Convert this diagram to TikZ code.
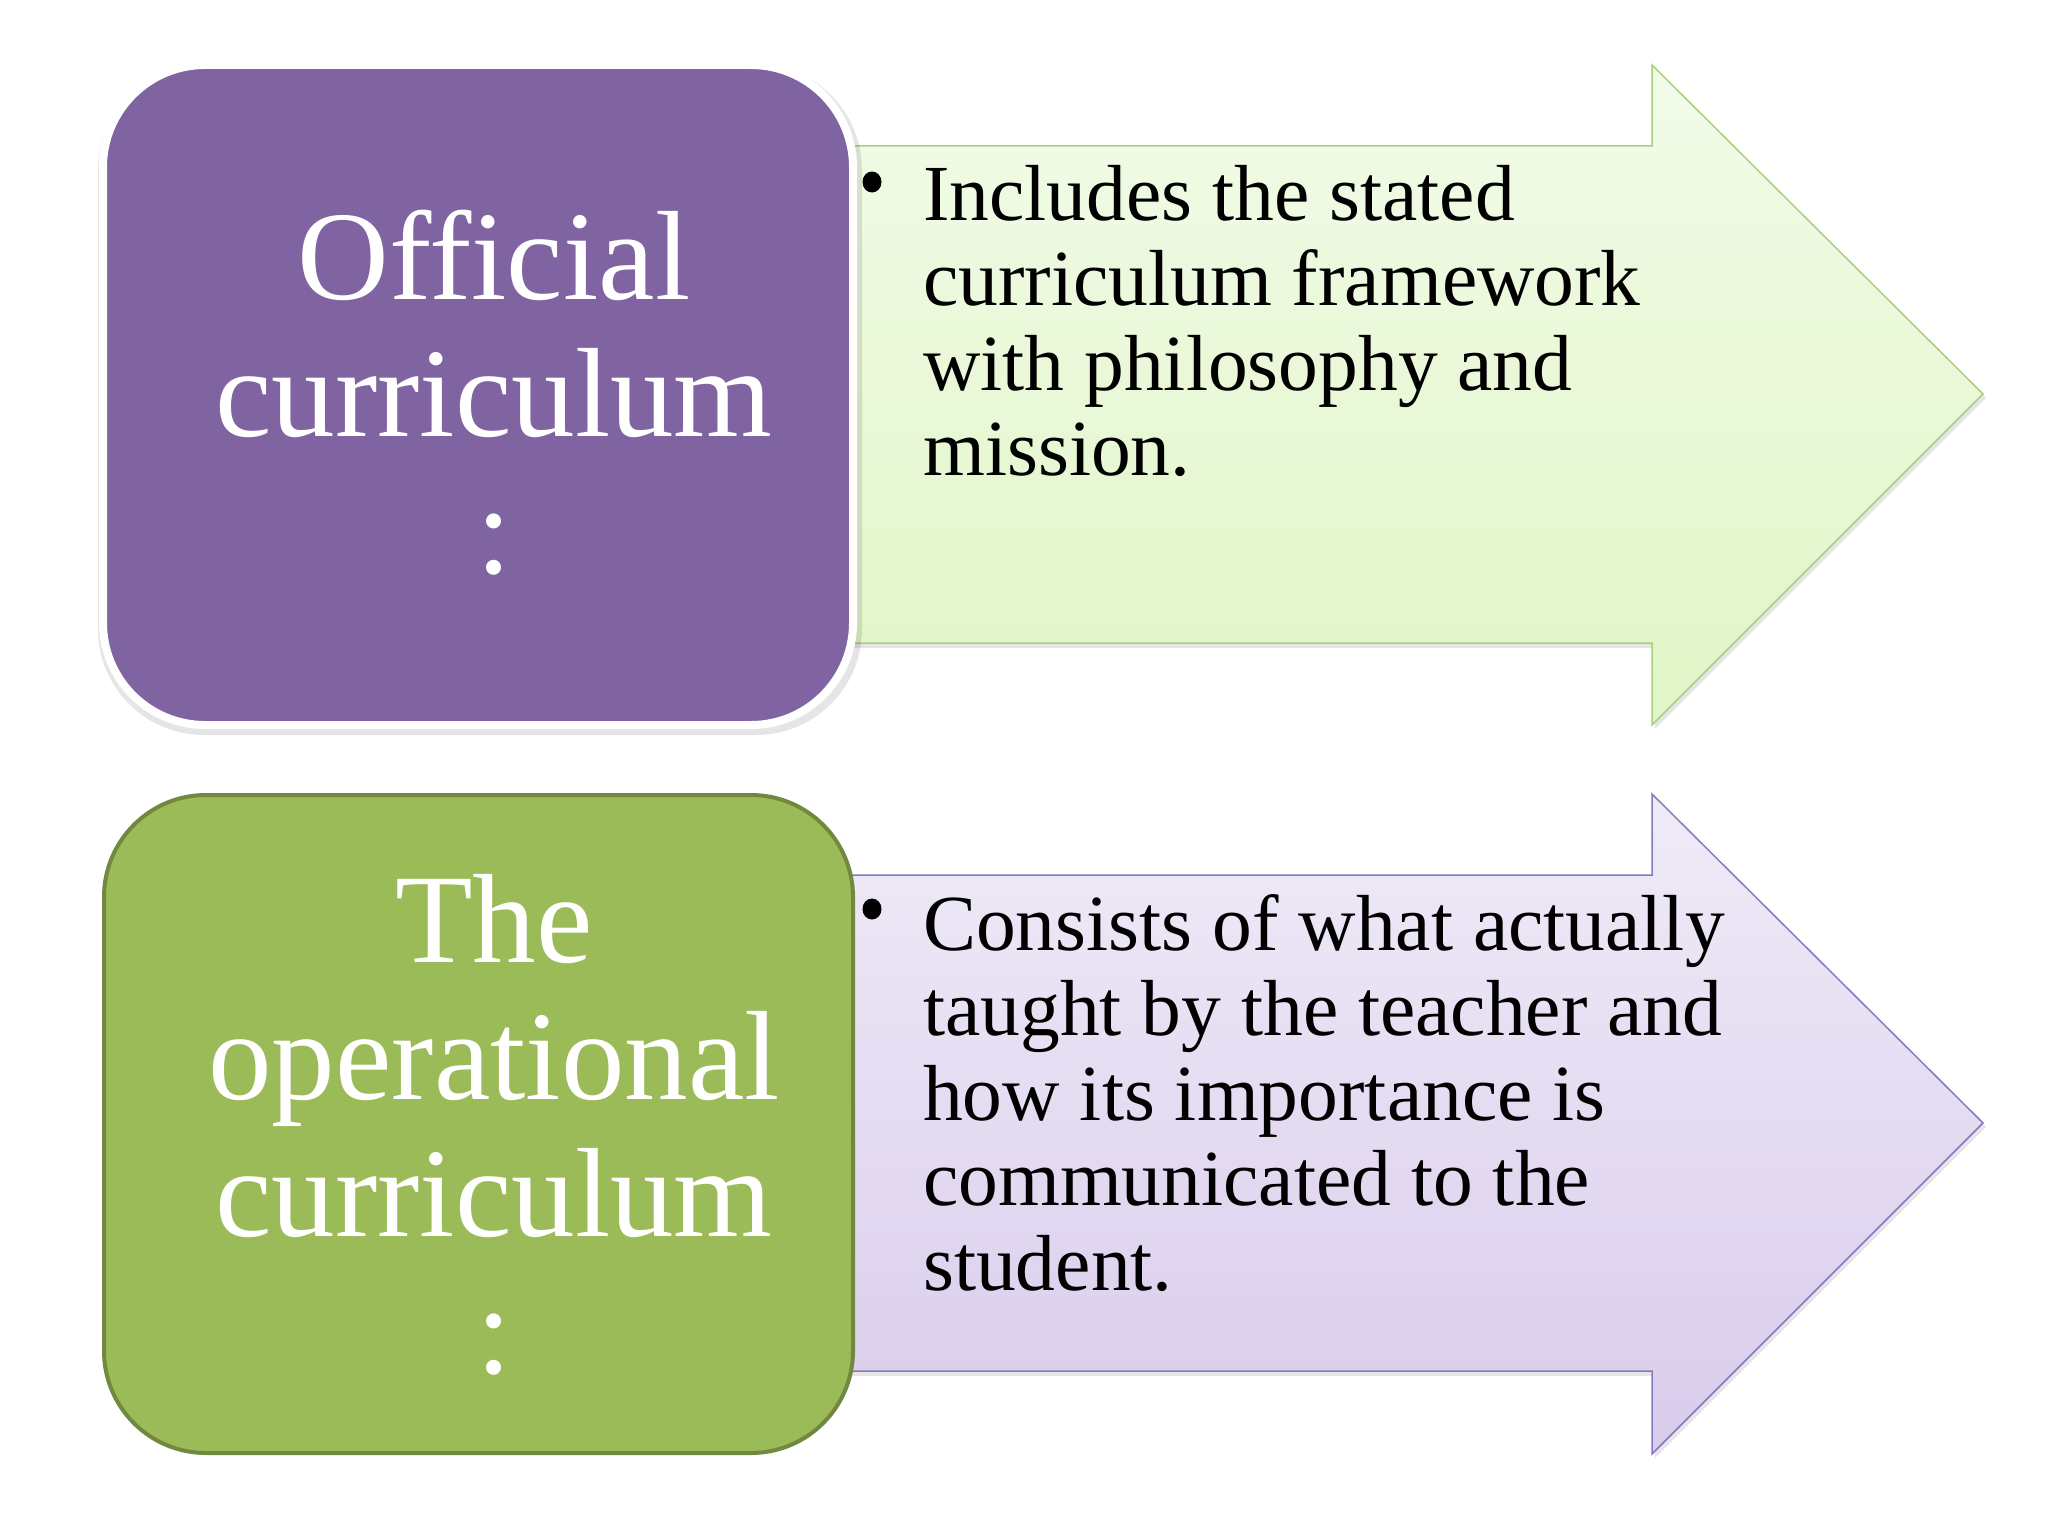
\documentclass[tikz,border=0pt]{standalone}
\usepackage{fontspec}
\setmainfont{Liberation Serif}
\definecolor{purplebox}{HTML}{8064A2}
\definecolor{greenbox}{HTML}{9BBB59}
\definecolor{greenborder}{HTML}{71893F}
\definecolor{garrowtop}{HTML}{F2FBE9}
\definecolor{garrowbot}{HTML}{E1F5C6}
\definecolor{garrowline}{HTML}{A8D080}
\definecolor{parrowtop}{HTML}{EFEBF7}
\definecolor{parrowbot}{HTML}{D9CCEC}
\definecolor{parrowline}{HTML}{8878BE}
\tikzset{
  boxtext/.style={text=white, font=\fontsize{127}{137}\selectfont, inner sep=0pt, anchor=base},
  arrowtext/.style={text=black, font=\fontsize{79.5}{85}\selectfont, inner sep=0pt, anchor=base west},
  bulletdot/.style={ellipse, fill=black, inner sep=0pt, minimum width=19pt, minimum height=21pt},
  roundbox/.style={rectangle, rounded corners=102pt, inner sep=0pt},
  shadowfill/.style={fill=black, opacity=0.10, draw=none},
}
\usetikzlibrary{shapes.geometric}
\begin{document}
\begin{tikzpicture}[x=1pt,y=-1pt]
\useasboundingbox (0,0) rectangle (2048,1536);
\fill[white] (0,0) rectangle (2048,1536);

% ---------- top arrow (green) ----------
\fill[shadowfill] (822,150) -- (1655,150) -- (1655,69) -- (1986,398) -- (1655,729) -- (1655,648) -- (822,648) -- cycle;
\shade[top color=garrowtop, bottom color=garrowbot, draw=garrowline, line width=1.5pt]
  (820,146) -- (1652,146) -- (1652,65) -- (1983,394) -- (1652,725) -- (1652,643) -- (820,643) -- cycle;

% ---------- bottom arrow (lavender) ----------
\fill[shadowfill] (822,879) -- (1655,879) -- (1655,798) -- (1986,1127) -- (1655,1458) -- (1655,1376) -- (822,1376) -- cycle;
\shade[top color=parrowtop, bottom color=parrowbot, draw=parrowline, line width=1.5pt]
  (820,875) -- (1652,875) -- (1652,794) -- (1983,1123) -- (1652,1454) -- (1652,1371) -- (820,1371) -- cycle;

% ---------- top box ----------
\fill[shadowfill, rounded corners=106pt] (98,64) rectangle (862,735);
\node[roundbox, draw=white, line width=8pt, fill=purplebox,
      minimum width=750pt, minimum height=660pt] (official) at (478,395) {};
\node[boxtext] (officialtext) at (494,299)
  {\begin{tabular}[t]{@{}c@{}}Official\\curriculum\\:\end{tabular}};

% ---------- bottom box ----------
\node[roundbox, draw=greenborder, line width=4pt, fill=greenbox,
      minimum width=749pt, minimum height=658pt] (operational) at (478.5,1124) {};
\node[boxtext] (operationaltext) at (494,962)
  {\begin{tabular}[t]{@{}c@{}}The\\operational\\curriculum\\:\end{tabular}};

% ---------- arrow texts ----------
\node[bulletdot] (bullet1) at (872,182) {};
\node[arrowtext] (text1) at (923,220)
  {\begin{tabular}[t]{@{}l@{}}Includes the stated\\curriculum framework\\with philosophy and\\mission.\end{tabular}};

\node[bulletdot] (bullet2) at (872,909) {};
\node[arrowtext] (text2) at (923,950)
  {\begin{tabular}[t]{@{}l@{}}Consists of what actually\\taught by the teacher and\\how its importance is\\communicated to the\\student.\end{tabular}};
\end{tikzpicture}
\end{document}
